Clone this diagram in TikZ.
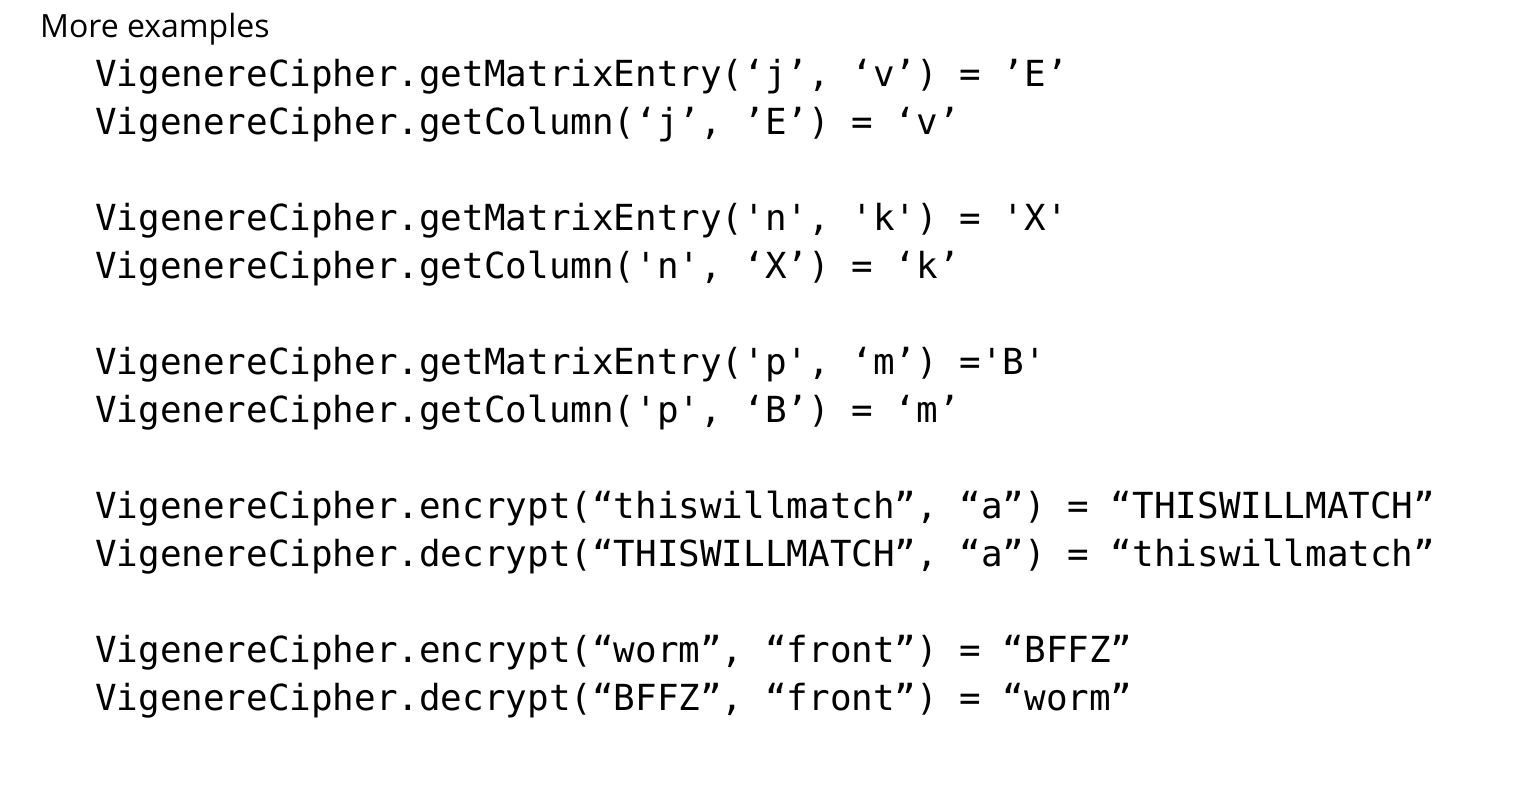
\documentclass[tikz,border=0pt]{standalone}
\usepackage{fontspec}
\setmainfont{Open Sans}
\newfontfamily\codefont{DejaVu Sans Mono}
\begin{document}
\begin{tikzpicture}[x=1pt,y=-1pt,
  code/.style={anchor=base west,inner sep=0pt,font=\codefont\fontsize{35.9}{40}\selectfont},
  ttl/.style={anchor=base west,inner sep=0pt,font=\fontsize{32}{36}\selectfont}]
\useasboundingbox (0,0) rectangle (1534,792);
\node[ttl] (t) at (40,38) {More examples};
\node[code] (l1) at (95,87) {VigenereCipher.getMatrixEntry(‘j’, ‘v’) = ’E’};
\node[code] (l2) at (95,134) {VigenereCipher.getColumn(‘j’, ’E’) = ‘v’};
\node[code] (l3) at (95,230) {VigenereCipher.getMatrixEntry('n', 'k') = 'X'};
\node[code] (l4) at (95,278) {VigenereCipher.getColumn('n', ‘X’) = ‘k’};
\node[code] (l5) at (95,374) {VigenereCipher.getMatrixEntry('p', ‘m’) ='B'};
\node[code] (l6) at (95,422) {VigenereCipher.getColumn('p', ‘B’) = ‘m’};
\node[code] (l7) at (95,518) {VigenereCipher.encrypt(“thiswillmatch”, “a”) = “THISWILLMATCH”};
\node[code] (l8) at (95,566) {VigenereCipher.decrypt(“THISWILLMATCH”, “a”) = “thiswillmatch”};
\node[code] (l9) at (95,662) {VigenereCipher.encrypt(“worm”, “front”) = “BFFZ”};
\node[code] (l10) at (95,710) {VigenereCipher.decrypt(“BFFZ”, “front”) = “worm”};
\end{tikzpicture}
\end{document}
